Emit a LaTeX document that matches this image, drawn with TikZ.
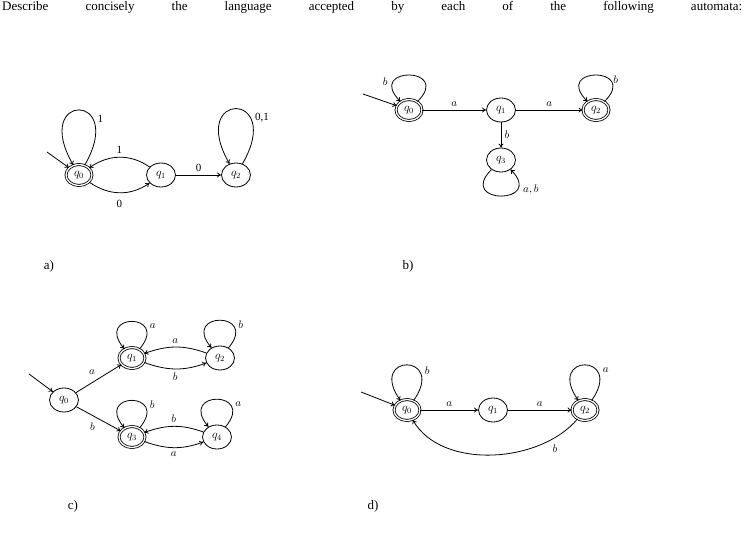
\documentclass[tikz,border=0pt]{standalone}
\usepackage{fontspec}
\setmainfont{Liberation Serif}
\usetikzlibrary{shapes.geometric,arrows.meta}
\begin{document}
\begin{tikzpicture}[x=1pt,y=-1pt,>={To[length=4pt,width=5pt]},
  st/.style={ellipse,draw,line width=0.8pt,minimum width=29pt,minimum height=24pt,inner sep=0pt,font=\fontsize{12}{12}\selectfont},
  acc/.style={st,double,double distance=1.3pt,minimum width=26pt,minimum height=21pt},
  tr/.style={->,line width=0.8pt},
  lb/.style={font=\fontsize{11}{11}\selectfont},
  captxt/.style={font=\fontsize{13}{13}\selectfont}]
\useasboundingbox (0,0) rectangle (744,559);
\node[captxt,anchor=north west,inner sep=0pt] (hdr) at (2,1) {\hbox to 740pt{Describe\hfill concisely\hfill the\hfill language\hfill accepted\hfill by\hfill each\hfill of\hfill the\hfill following\hfill automata:}};
% a)
\node[acc] (a0) at (79,175) {$q_0$};
\node[st] (a1) at (161,175) {$q_1$};
\node[st] (a2) at (236,175) {$q_2$};
\coordinate (ai) at (47,152);
\draw[tr] (ai) -- (a0);
\draw[tr] (a0) to[out=60,in=120,min distance=85pt] node[lb,pos=0.3,right,xshift=1pt] {1} (a0);
\draw[tr] (a2) to[out=60,in=120,min distance=85pt] node[lb,pos=0.3,right,xshift=1pt] {0,1} (a2);
\draw[tr] (a1) to[out=145,in=35] node[lb,above] {1} (a0);
\draw[tr] (a0) to[out=-35,in=-145] node[lb,below,yshift=-4pt] {0} (a1);
\draw[tr] (a1) -- node[lb,above] {0} (a2);
\node[captxt] (la) at (49,266) {a)};
% b)
\node[acc] (b0) at (409,110) {$q_0$};
\node[st] (b1) at (501,110) {$q_1$};
\node[acc] (b2) at (596,110) {$q_2$};
\node[st] (b3) at (501,160) {$q_3$};
\coordinate (bi) at (363,94);
\draw[tr] (bi) -- (b0);
\draw[tr] (b0) to[out=45,in=135,min distance=50pt] node[lb,pos=0.75,left,xshift=-2pt] {$b$} (b0);
\draw[tr] (b2) to[out=45,in=135,min distance=50pt] node[lb,pos=0.3,right] {$b$} (b2);
\draw[tr] (b3) to[out=-135,in=-45,min distance=50pt] node[lb,pos=0.75,right,xshift=2pt] {$a,b$} (b3);
\draw[tr] (b0) -- node[lb,above] {$a$} (b1);
\draw[tr] (b1) -- node[lb,above] {$a$} (b2);
\draw[tr] (b1) -- node[lb,right] {$b$} (b3);
\node[captxt] (lb2) at (408,266) {b)};
% c)
\node[st] (c0) at (64,400) {$q_0$};
\node[acc] (c1) at (132,358) {$q_1$};
\node[st] (c2) at (220,358) {$q_2$};
\node[acc] (c3) at (132,437) {$q_3$};
\node[st] (c4) at (217,437) {$q_4$};
\coordinate (ci) at (29,374);
\draw[tr] (ci) -- (c0);
\foreach \n/\l in {c1/a,c2/b,c3/b,c4/a}
  \draw[tr] (\n) to[out=50,in=130,min distance=48pt] node[lb,pos=0.3,right,xshift=2pt] {$\l$} (\n);
\draw[tr] (c0) -- node[lb,above left] {$a$} (c1);
\draw[tr] (c0) -- node[lb,below left] {$b$} (c3);
\draw[tr] (c2) to[out=160,in=20] node[lb,above] {$a$} (c1);
\draw[tr] (c1) to[out=-20,in=-160] node[lb,below] {$b$} (c2);
\draw[tr] (c4) to[out=160,in=20] node[lb,above] {$b$} (c3);
\draw[tr] (c3) to[out=-20,in=-160] node[lb,below] {$a$} (c4);
\node[captxt] (lc) at (73,506) {c)};
% d)
\node[acc] (d0) at (407,410) {$q_0$};
\node[st] (d1) at (493,410) {$q_1$};
\node[acc] (d2) at (585,410) {$q_2$};
\coordinate (di) at (361,392);
\draw[tr] (di) -- (d0);
\draw[tr] (d0) to[out=55,in=125,min distance=58pt] node[lb,pos=0.3,right,xshift=2pt] {$b$} (d0);
\draw[tr] (d2) to[out=55,in=125,min distance=58pt] node[lb,pos=0.3,right,xshift=2pt] {$a$} (d2);
\draw[tr] (d0) -- node[lb,above] {$a$} (d1);
\draw[tr] (d1) -- node[lb,above] {$a$} (d2);
\draw[tr] (d2) to[out=-130,in=-60,looseness=0.9] node[lb,pos=0.2,below right] {$b$} (d0);
\node[captxt] (ld) at (373,506) {d)};
\end{tikzpicture}
\end{document}
